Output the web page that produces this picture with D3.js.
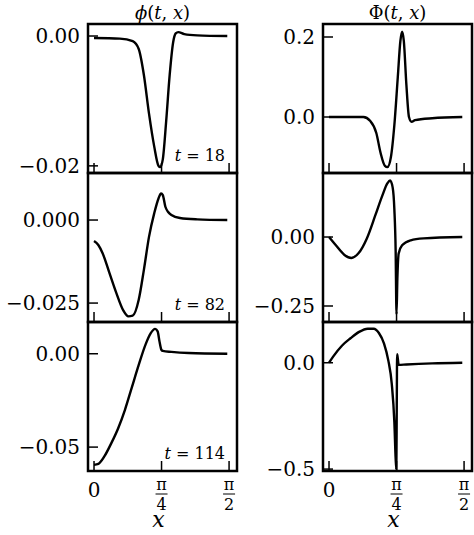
<!DOCTYPE html>
<html><head><meta charset="utf-8">
<script src="https://cdn.jsdelivr.net/npm/d3@7"></script>
<style>body{margin:0;background:#fff}svg{font-family:"DejaVu Serif",serif}</style>
</head><body><svg id="c" width="474" height="535"></svg>
<script>
// x in radians
var phi18x = [0,0.3,0.45,0.52,0.58,0.64,0.7,0.75,0.77,0.8,0.84,0.88,0.92,0.95,0.98,1.05,1.2,1.55];
var phi18y = [-0.0003,-0.0004,-0.0008,-0.002,-0.006,-0.012,-0.017,-0.02,-0.0202,-0.019,-0.013,-0.006,-0.001,0.0004,0.0006,0.0003,0.0001,0];
var Phi18x = [0,0.4,0.48,0.55,0.6,0.65,0.68,0.72,0.76,0.8,0.83,0.85,0.87,0.9,0.93,0.96,1.0,1.2,1.55];
var Phi18y = [0,0,-0.01,-0.04,-0.09,-0.122,-0.125,-0.1,-0.02,0.1,0.19,0.213,0.19,0.08,0,-0.012,-0.008,-0.003,0];
var phi82x = [0,0.05,0.1,0.18,0.26,0.34,0.4,0.45,0.52,0.58,0.64,0.7,0.75,0.78,0.8,0.83,0.86,0.9,1.0,1.2,1.55];
var phi82y = [-0.0063,-0.0075,-0.010,-0.016,-0.022,-0.0272,-0.029,-0.0288,-0.024,-0.015,-0.005,0.002,0.0065,0.008,0.0075,0.004,0.0025,0.0015,0.0006,0.0002,0];
var Phi82x = [0,0.08,0.18,0.26,0.34,0.44,0.54,0.62,0.68,0.71,0.74,0.76,0.775,0.785,0.795,0.81,0.85,0.95,1.1,1.55];
var Phi82y = [0,-0.03,-0.065,-0.076,-0.06,-0.005,0.08,0.15,0.195,0.205,0.18,0.1,-0.05,-0.28,-0.15,-0.06,-0.03,-0.012,-0.005,0];
var phi114x = [0,0.05,0.12,0.2,0.28,0.36,0.44,0.52,0.6,0.66,0.71,0.74,0.76,0.785,0.8,0.9,1.1,1.55];
var phi114y = [-0.0595,-0.059,-0.055,-0.048,-0.04,-0.03,-0.018,-0.006,0.005,0.011,0.0133,0.012,0.007,0.002,0.0015,0.001,0.0004,0];
var Phi114x = [0,0.05,0.15,0.25,0.35,0.45,0.52,0.58,0.64,0.69,0.73,0.76,0.775,0.783,0.788,0.792,0.8,0.81,0.9,1.2,1.55];
var Phi114y = [0,0.03,0.08,0.115,0.145,0.16,0.16,0.14,0.09,0.01,-0.1,-0.28,-0.45,-0.5,-0.2,0.04,0.02,-0.01,-0.008,-0.003,0];

var times = ["18","82","114"];
var titles = ["\u03d5", "\u03a6"];
var yTicks = [[0,-0.02],[0.2,0],[0,-0.025],[0,-0.25],[0,-0.05],[0,-0.5]];
var yLabels = [["0.00","\u22120.02"],["0.2","0.0"],["0.000","\u22120.025"],["0.00","\u22120.25"],["0.00","\u22120.05"],["0.0","\u22120.5"]];
var yDomains = [[-0.0211,0.00185],[-0.14,0.2325],[-0.0307,0.01416],[-0.308,0.232],[-0.0628,0.017],[-0.509,0.1916]];
var series = [[phi18x,phi18y],[Phi18x,Phi18y],[phi82x,phi82y],[Phi82x,Phi82y],[phi114x,phi114y],[Phi114x,Phi114y]];
var xTicks = [0, Math.PI/4, Math.PI/2];

var svg = d3.select("#c");
var colX = [88, 323], W = 149, rowY = [24, 173, 322], H = 149;

series.forEach(function(s, i) {
  var r = Math.floor(i/2), c = i%2;
  var x0 = colX[c], y0 = rowY[r];
  var x = d3.scaleLinear().domain([-0.07, 1.663]).range([x0, x0+W]);
  var y = d3.scaleLinear().domain(yDomains[i]).range([y0+H, y0]);
  var g = svg.append("g");
  var pts = s[0].map(function(v, k){ return [v, s[1][k]]; });
  g.append("path").datum(pts)
    .attr("d", d3.line().x(function(d){return x(d[0]);}).y(function(d){return y(d[1]);}).curve(d3.curveMonotoneX))
    .attr("fill","none").attr("stroke","#000").attr("stroke-width",2.4);
  yTicks[i].forEach(function(t, k){
    g.append("line").attr("x1",x0).attr("x2",x0+10).attr("y1",y(t)).attr("y2",y(t)).attr("stroke","#000").attr("stroke-width",1.5);
    g.append("text").attr("x",x0-8).attr("y",y(t)+7).attr("text-anchor","end").attr("font-size",20).text(yLabels[i][k]);
  });
  xTicks.forEach(function(t){
    g.append("line").attr("x1",x(t)).attr("x2",x(t)).attr("y1",y0+H).attr("y2",y0+H-10).attr("stroke","#000").attr("stroke-width",1.5);
  });
  g.append("rect").attr("x",x0).attr("y",y0).attr("width",W).attr("height",H)
    .attr("fill","none").attr("stroke","#000").attr("stroke-width",2.5);
  if (c === 0) {
    var tl = g.append("text").attr("x",x0+W-12).attr("y",y0+H-12).attr("text-anchor","end").attr("font-size",16);
    tl.append("tspan").attr("font-style","italic").text("t");
    tl.append("tspan").text(" = " + times[r]);
  }
  if (r === 0) {
    var tt = g.append("text").attr("x",x0+W/2).attr("y",y0-5).attr("text-anchor","middle").attr("font-size",18);
    tt.append("tspan").attr("font-style", c === 0 ? "italic" : "normal").text(titles[c]);
    tt.append("tspan").text("(");
    tt.append("tspan").attr("font-style","italic").text("t");
    tt.append("tspan").text(", ");
    tt.append("tspan").attr("font-style","italic").text("x");
    tt.append("tspan").text(")");
  }
  if (r === 2) {
    g.append("text").attr("x",x(0)).attr("y",y0+H+26).attr("text-anchor","middle").attr("font-size",20).text("0");
    [Math.PI/4, Math.PI/2].forEach(function(t, k){
      g.append("text").attr("x",x(t)).attr("y",y0+H+19).attr("text-anchor","middle").attr("font-size",16).text("\u03c0");
      g.append("line").attr("x1",x(t)-6).attr("x2",x(t)+6).attr("y1",y0+H+23).attr("y2",y0+H+23).attr("stroke","#000").attr("stroke-width",1);
      g.append("text").attr("x",x(t)).attr("y",y0+H+39).attr("text-anchor","middle").attr("font-size",16).text(k===0?"4":"2");
    });
    g.append("text").attr("x",x0+W/2-4).attr("y",y0+H+56).attr("text-anchor","middle").attr("font-size",22).attr("font-style","italic").text("x");
  }
});
</script></body></html>
